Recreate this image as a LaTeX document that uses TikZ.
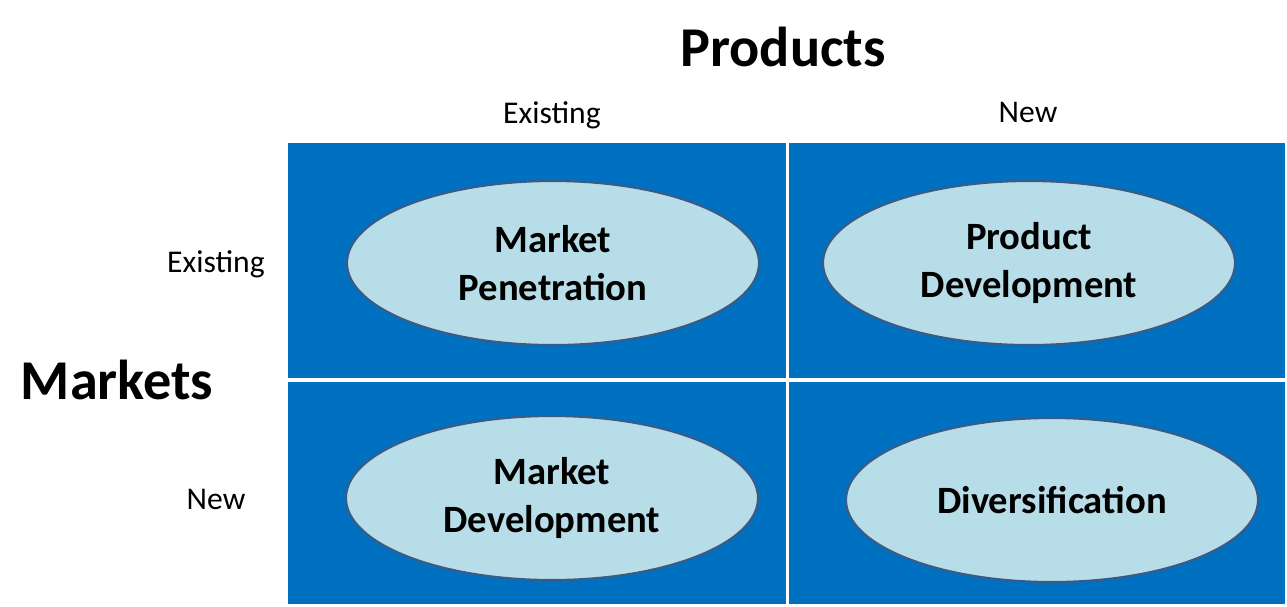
\documentclass[tikz,border=0pt]{standalone}
\usepackage{fontspec}
\setmainfont{Carlito}
\usetikzlibrary{shapes.geometric}
\definecolor{quadblue}{HTML}{0070C0}
\definecolor{ovalfill}{HTML}{B7DDE8}
\definecolor{ovalline}{HTML}{3B5B85}
\begin{document}
\begin{tikzpicture}[x=0.02cm,y=-0.02cm,
    quad/.style={fill=quadblue,draw=none},
    oval/.style={ellipse,draw=ovalline,line width=1.2pt,fill=ovalfill,minimum width=412*0.02cm,minimum height=164*0.02cm,align=center,font=\fontsize{22}{27}\selectfont\bfseries},
    axislabel/.style={font=\fontsize{32}{38}\selectfont\bfseries},
    catlabel/.style={font=\fontsize{18}{22}\selectfont}]
    \useasboundingbox (0,0) rectangle (1287,606);
    % quadrants
    \fill[quad] (288,143) rectangle (786,378);
    \fill[quad] (789,143) rectangle (1285,378);
    \fill[quad] (288,382) rectangle (786,604);
    \fill[quad] (789,382) rectangle (1285,604);
    % strategies
    \node[oval] (pen) at (553,263) {Market\\Penetration};
    \node[oval] (pdev) at (1029,263) {Product\\Development};
    \node[oval] (mdev) at (552,498) {Market\\Development};
    \node[oval] (div) at (1052,500) {Diversification};
    % labels
    \node[axislabel] (products) at (783,47) {Products};
    \node[axislabel] (markets) at (117,380) {Markets};
    \node[catlabel] (pexist) at (552,115) {Existing};
    \node[catlabel] (pnew) at (1028,112) {New};
    \node[catlabel] (mexist) at (216,264) {Existing};
    \node[catlabel] (mnew) at (216,499) {New};
\end{tikzpicture}
\end{document}
